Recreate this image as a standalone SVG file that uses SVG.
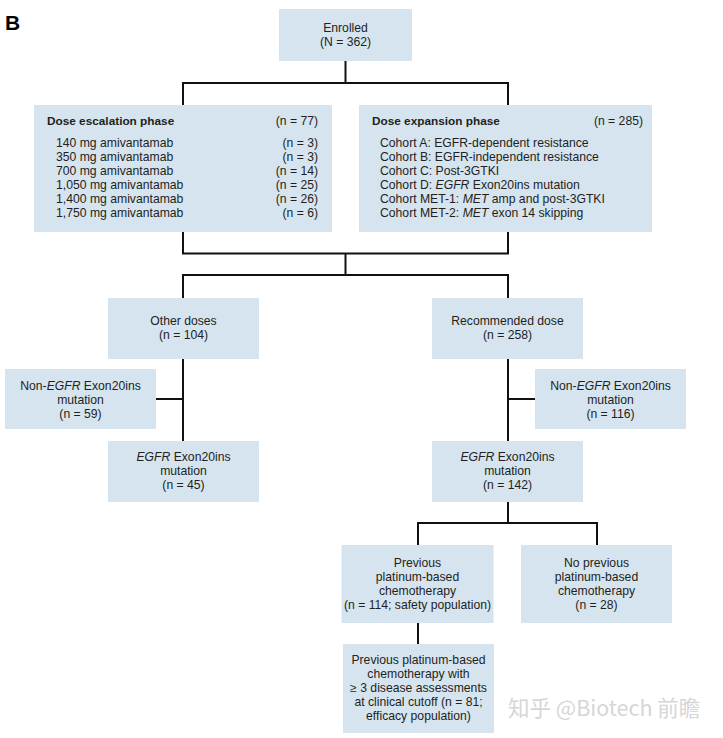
<svg xmlns="http://www.w3.org/2000/svg" width="723" height="738" viewBox="0 0 723 738">
<style>
.box{fill:#d6e4f0}
text{font-family:"Liberation Sans",Arial,sans-serif;font-size:12.2px;fill:#231f20}
.c{text-anchor:middle}
.r{text-anchor:end}
.b{font-weight:bold;font-size:11.8px}
.i{font-style:italic}
.ln{fill:none;stroke:#111;stroke-width:2}
.wm{font-family:"Noto Sans CJK SC","Liberation Sans",sans-serif;font-size:21.5px;fill:#d6d6d6}
</style>
<rect width="723" height="738" fill="#fff"/>
<text x="5" y="30" style="font-size:21px;font-weight:bold;fill:#000">B</text>
<g id="connectors">
<path class="ln" d="M345.5 61V83M183 105V83H508V105"/>
<path class="ln" d="M183 232V253.5H508V232M345.5 253.5V275M183 298V275H508V298"/>
<path class="ln" d="M183 359V441M156 399H183"/>
<path class="ln" d="M508 359V441M508 399H535"/>
<path class="ln" d="M508 502V523M418 545V523H597V545"/>
<path class="ln" d="M418 623V644"/>
</g>
<g id="enrolled">
<rect class="box" x="279" y="9" width="133" height="52"/>
<text class="c" x="345.5" y="32">Enrolled</text>
<text class="c" x="345.5" y="46">(N = 362)</text>
</g>
<g id="escalation">
<rect class="box" x="34" y="105" width="298" height="127"/>
<text class="b" x="47" y="125">Dose escalation phase</text>
<text class="r" x="318" y="125">(n = 77)</text>
<text x="56" y="147">140 mg amivantamab</text><text class="r" x="318" y="147">(n = 3)</text>
<text x="56" y="161">350 mg amivantamab</text><text class="r" x="318" y="161">(n = 3)</text>
<text x="56" y="175">700 mg amivantamab</text><text class="r" x="318" y="175">(n = 14)</text>
<text x="56" y="189">1,050 mg amivantamab</text><text class="r" x="318" y="189">(n = 25)</text>
<text x="56" y="203">1,400 mg amivantamab</text><text class="r" x="318" y="203">(n = 26)</text>
<text x="56" y="217">1,750 mg amivantamab</text><text class="r" x="318" y="217">(n = 6)</text>
</g>
<g id="expansion">
<rect class="box" x="359" y="105" width="293" height="127"/>
<text class="b" x="372" y="125">Dose expansion phase</text>
<text class="r" x="643" y="125">(n = 285)</text>
<text x="380" y="147">Cohort A: EGFR-dependent resistance</text>
<text x="380" y="161">Cohort B: EGFR-independent resistance</text>
<text x="380" y="175">Cohort C: Post-3GTKI</text>
<text x="380" y="189">Cohort D: <tspan class="i">EGFR</tspan> Exon20ins mutation</text>
<text x="380" y="203">Cohort MET-1: <tspan class="i">MET</tspan> amp and post-3GTKI</text>
<text x="380" y="217">Cohort MET-2: <tspan class="i">MET</tspan> exon 14 skipping</text>
</g>
<g id="other-doses">
<rect class="box" x="108" y="298" width="151" height="61"/>
<text class="c" x="183.5" y="325">Other doses</text>
<text class="c" x="183.5" y="339">(n = 104)</text>
</g>
<g id="recommended-dose">
<rect class="box" x="432" y="298" width="151" height="61"/>
<text class="c" x="507.5" y="325">Recommended dose</text>
<text class="c" x="507.5" y="339">(n = 258)</text>
</g>
<g id="non-egfr-left">
<rect class="box" x="5" y="369" width="151" height="60"/>
<text class="c" x="80.5" y="389.5">Non-<tspan class="i">EGFR</tspan> Exon20ins</text>
<text class="c" x="80.5" y="403.5">mutation</text>
<text class="c" x="80.5" y="417.5">(n = 59)</text>
</g>
<g id="non-egfr-right">
<rect class="box" x="535" y="369" width="151" height="60"/>
<text class="c" x="610.5" y="389.5">Non-<tspan class="i">EGFR</tspan> Exon20ins</text>
<text class="c" x="610.5" y="403.5">mutation</text>
<text class="c" x="610.5" y="417.5">(n = 116)</text>
</g>
<g id="egfr-left">
<rect class="box" x="108" y="441" width="151" height="61"/>
<text class="c" x="183.5" y="461"><tspan class="i">EGFR</tspan> Exon20ins</text>
<text class="c" x="183.5" y="475">mutation</text>
<text class="c" x="183.5" y="489">(n = 45)</text>
</g>
<g id="egfr-right">
<rect class="box" x="432" y="441" width="151" height="61"/>
<text class="c" x="507.5" y="461"><tspan class="i">EGFR</tspan> Exon20ins</text>
<text class="c" x="507.5" y="475">mutation</text>
<text class="c" x="507.5" y="489">(n = 142)</text>
</g>
<g id="previous-platinum">
<rect class="box" x="341.5" y="545" width="152" height="78"/>
<text class="c" x="417.5" y="567">Previous</text>
<text class="c" x="417.5" y="581">platinum-based</text>
<text class="c" x="417.5" y="595">chemotherapy</text>
<text class="c" x="417.5" y="609">(n = 114; safety population)</text>
</g>
<g id="no-previous-platinum">
<rect class="box" x="521" y="545" width="151" height="78"/>
<text class="c" x="596.5" y="567">No previous</text>
<text class="c" x="596.5" y="581">platinum-based</text>
<text class="c" x="596.5" y="595">chemotherapy</text>
<text class="c" x="596.5" y="609">(n = 28)</text>
</g>
<g id="efficacy">
<rect class="box" x="343" y="644" width="151" height="89"/>
<text class="c" x="418.5" y="664">Previous platinum-based</text>
<text class="c" x="418.5" y="678">chemotherapy with</text>
<text class="c" x="418.5" y="692">≥ 3 disease assessments</text>
<text class="c" x="418.5" y="706">at clinical cutoff (n = 81;</text>
<text class="c" x="418.5" y="720">efficacy population)</text>
</g>
<text class="wm" x="508" y="716">知乎 @Biotech 前瞻</text>
</svg>
